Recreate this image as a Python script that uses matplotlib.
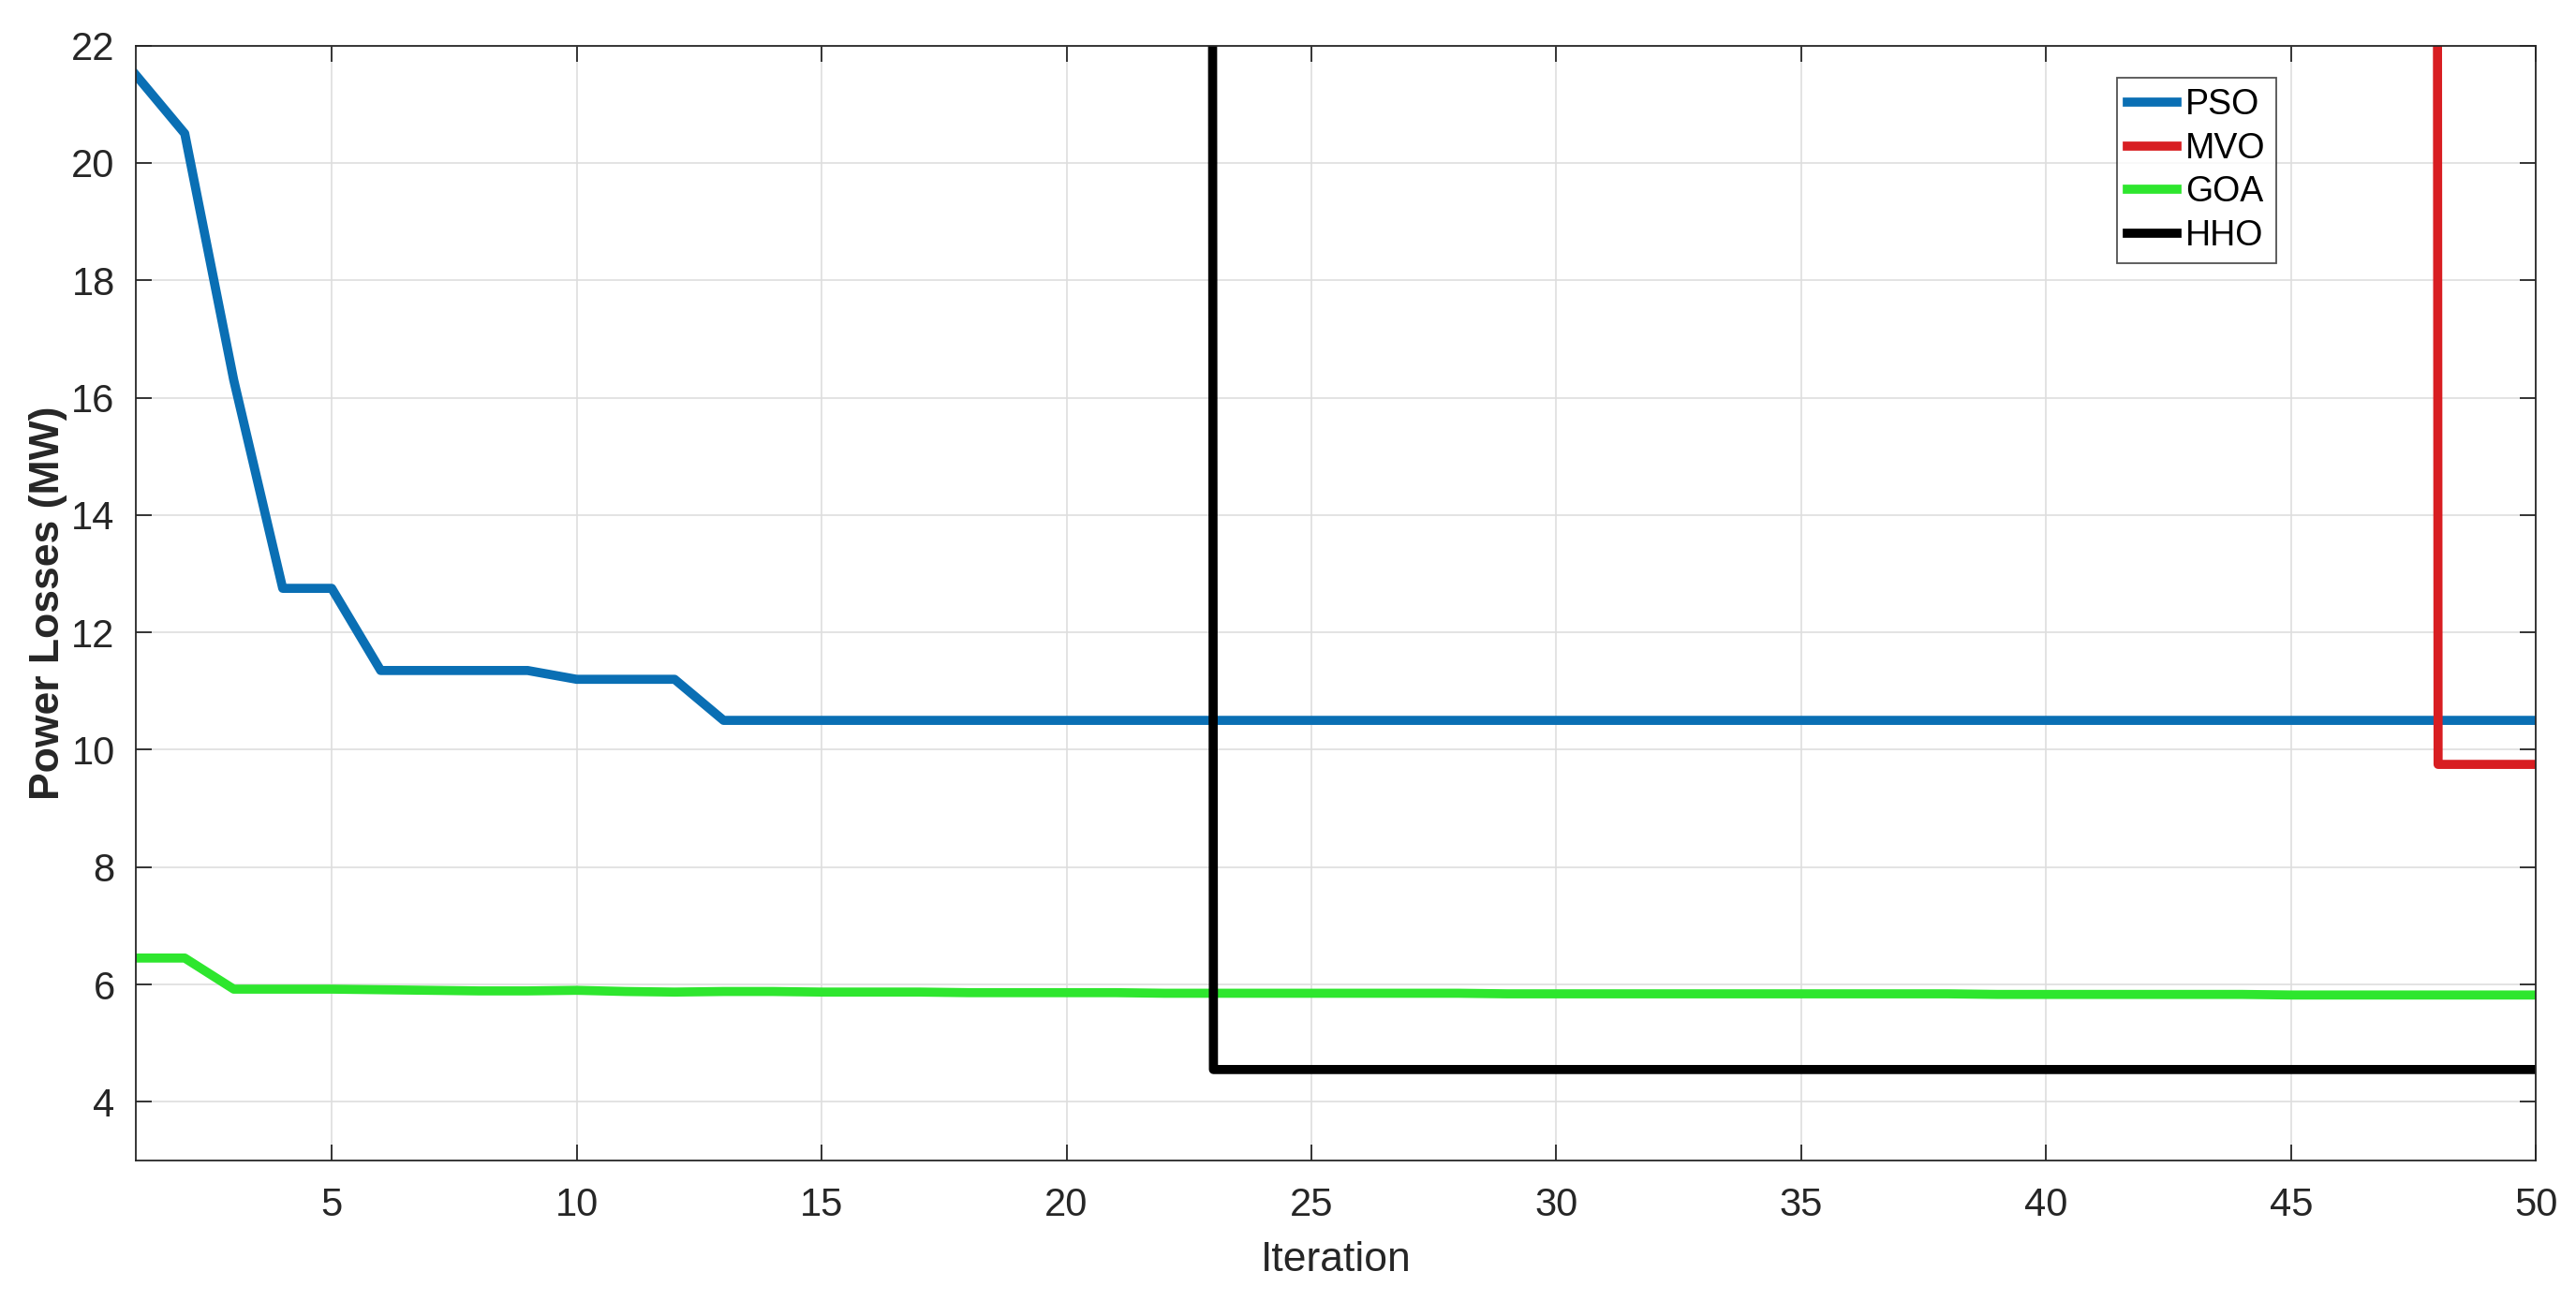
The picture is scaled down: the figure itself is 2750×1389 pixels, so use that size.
import numpy as np
import matplotlib
matplotlib.use('Agg')
import matplotlib.pyplot as plt

plt.rcParams['font.family'] = ['Liberation Sans', 'DejaVu Sans']

# iterations
iteration = np.arange(1, 51)

# convergence curves (MW)
pso = [21.5, 20.5, 16.3, 12.75, 12.75, 11.35, 11.35, 11.35, 11.35, 11.2,
       11.2, 11.2, 10.5, 10.5, 10.5, 10.5, 10.5, 10.5, 10.5, 10.5,
       10.5, 10.5, 10.5, 10.5, 10.5, 10.5, 10.5, 10.5, 10.5, 10.5,
       10.5, 10.5, 10.5, 10.5, 10.5, 10.5, 10.5, 10.5, 10.5, 10.5,
       10.5, 10.5, 10.5, 10.5, 10.5, 10.5, 10.5, 10.5, 10.5, 10.5]
# MVO stays far above the plotted range until iteration 48
mvo = [1000.0] * 47 + [9.75, 9.75, 9.75]
goa = [6.45, 6.45, 5.92, 5.92, 5.92, 5.91, 5.90, 5.89, 5.89, 5.90,
       5.88, 5.87, 5.88, 5.88, 5.87, 5.87, 5.87, 5.86, 5.86, 5.86,
       5.86, 5.85, 5.85, 5.85, 5.85, 5.85, 5.85, 5.85, 5.84, 5.84,
       5.84, 5.84, 5.84, 5.84, 5.84, 5.84, 5.84, 5.84, 5.83, 5.83,
       5.83, 5.83, 5.83, 5.83, 5.82, 5.82, 5.82, 5.82, 5.82, 5.82]
# HHO stays far above the plotted range until iteration 23
hho = [1000.0] * 22 + [4.55] * 28

names = ['PSO', 'MVO', 'GOA', 'HHO']
colors = ['#0A6FB4', '#D81E22', '#2EE62E', '#000000']

fig = plt.figure(figsize=(27.5, 13.89), dpi=100)
ax = fig.add_axes([0.0527, 0.108, 0.9318, 0.857])

for y, name, c in zip([pso, mvo, goa, hho], names, colors):
    ax.plot(iteration, y, color=c, linewidth=7, label=name)

ax.set_xlim(1, 50)
ax.set_ylim(3, 22)
ax.set_xticks(np.arange(5, 51, 5))
ax.set_yticks(np.arange(4, 23, 2))
ax.grid(True, color='#dedede', linewidth=1.2)
ax.tick_params(direction='in', length=12, width=1.3, top=True, right=True,
               labelsize=30, colors='#262626')
ax.tick_params(axis='x', pad=20)
ax.tick_params(axis='y', pad=16)
for s in ax.spines.values():
    s.set_color('#262626')
    s.set_linewidth(1.3)

ax.set_xlabel('Iteration', fontsize=32, color='#262626', labelpad=13)
ax.set_ylabel('Power Losses (MW)', fontsize=32, fontweight='bold',
              color='#262626', labelpad=3)

leg = ax.legend(loc='upper left', bbox_to_anchor=(0.8255, 0.971), fontsize=27,
                frameon=True, fancybox=False, edgecolor='#262626',
                handlelength=1.4, handletextpad=0.25, borderpad=0.3,
                labelspacing=0.28, borderaxespad=0)
leg.get_frame().set_linewidth(1.3)

fig.savefig('out.png', dpi=100, facecolor='white')
